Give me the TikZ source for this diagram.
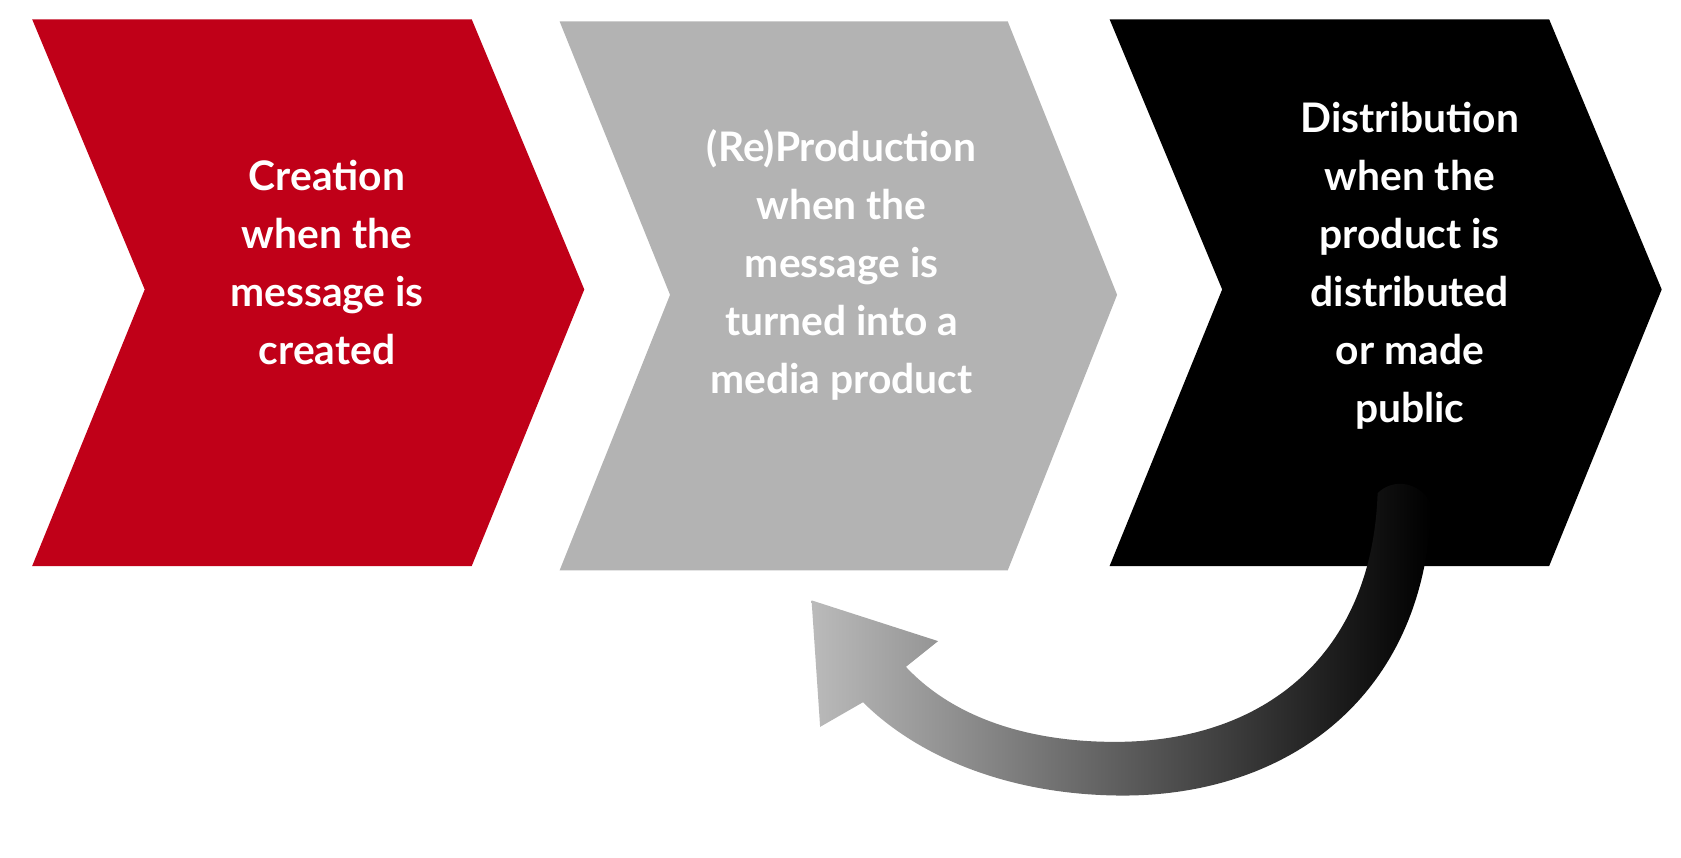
\documentclass[tikz,border=0pt]{standalone}
\usepackage{fontspec}
\setmainfont{Lato}
\definecolor{cred}{HTML}{C00018}
\definecolor{cgray}{HTML}{B3B3B3}
\begin{document}
\begin{tikzpicture}[x=1pt,y=-1pt,
  lbl/.style={text=white,font=\bfseries\fontsize{38}{54}\selectfont,align=center}]
\useasboundingbox (0,0) rectangle (1568,800);
\fill[cred] (30,18) -- (440,18) -- (545,270) -- (440,528) -- (30,528) -- (135,270) -- cycle;
\fill[cgray] (522,20) -- (940,20) -- (1042,275) -- (940,532) -- (522,532) -- (625,275) -- cycle;
\fill[black] (1035,18) -- (1445,18) -- (1550,270) -- (1445,528) -- (1035,528) -- (1140,270) -- cycle;
\node[lbl] (a) at (305,245) {Creation\\when the\\message is\\created};
\node[lbl] (b) at (785,247) {(Re)Production\\when the\\message is\\turned into a\\media product};
\node[lbl] (c) at (1315,248) {Distribution\\when the\\product is\\distributed\\or made\\public};
\shade[left color=cgray!90, right color=black]
  (1335,470) .. controls (1330,650) and (1200,745) .. (1040,742)
  .. controls (930,740) and (850,700) .. (805,655)
  -- (765,678) -- (757,560) -- (875,598) -- (845,622)
  .. controls (890,670) and (960,692) .. (1040,692)
  .. controls (1180,692) and (1280,610) .. (1285,460)
  .. controls (1300,445) and (1325,450) .. (1335,470) -- cycle;
\end{tikzpicture}
\end{document}
